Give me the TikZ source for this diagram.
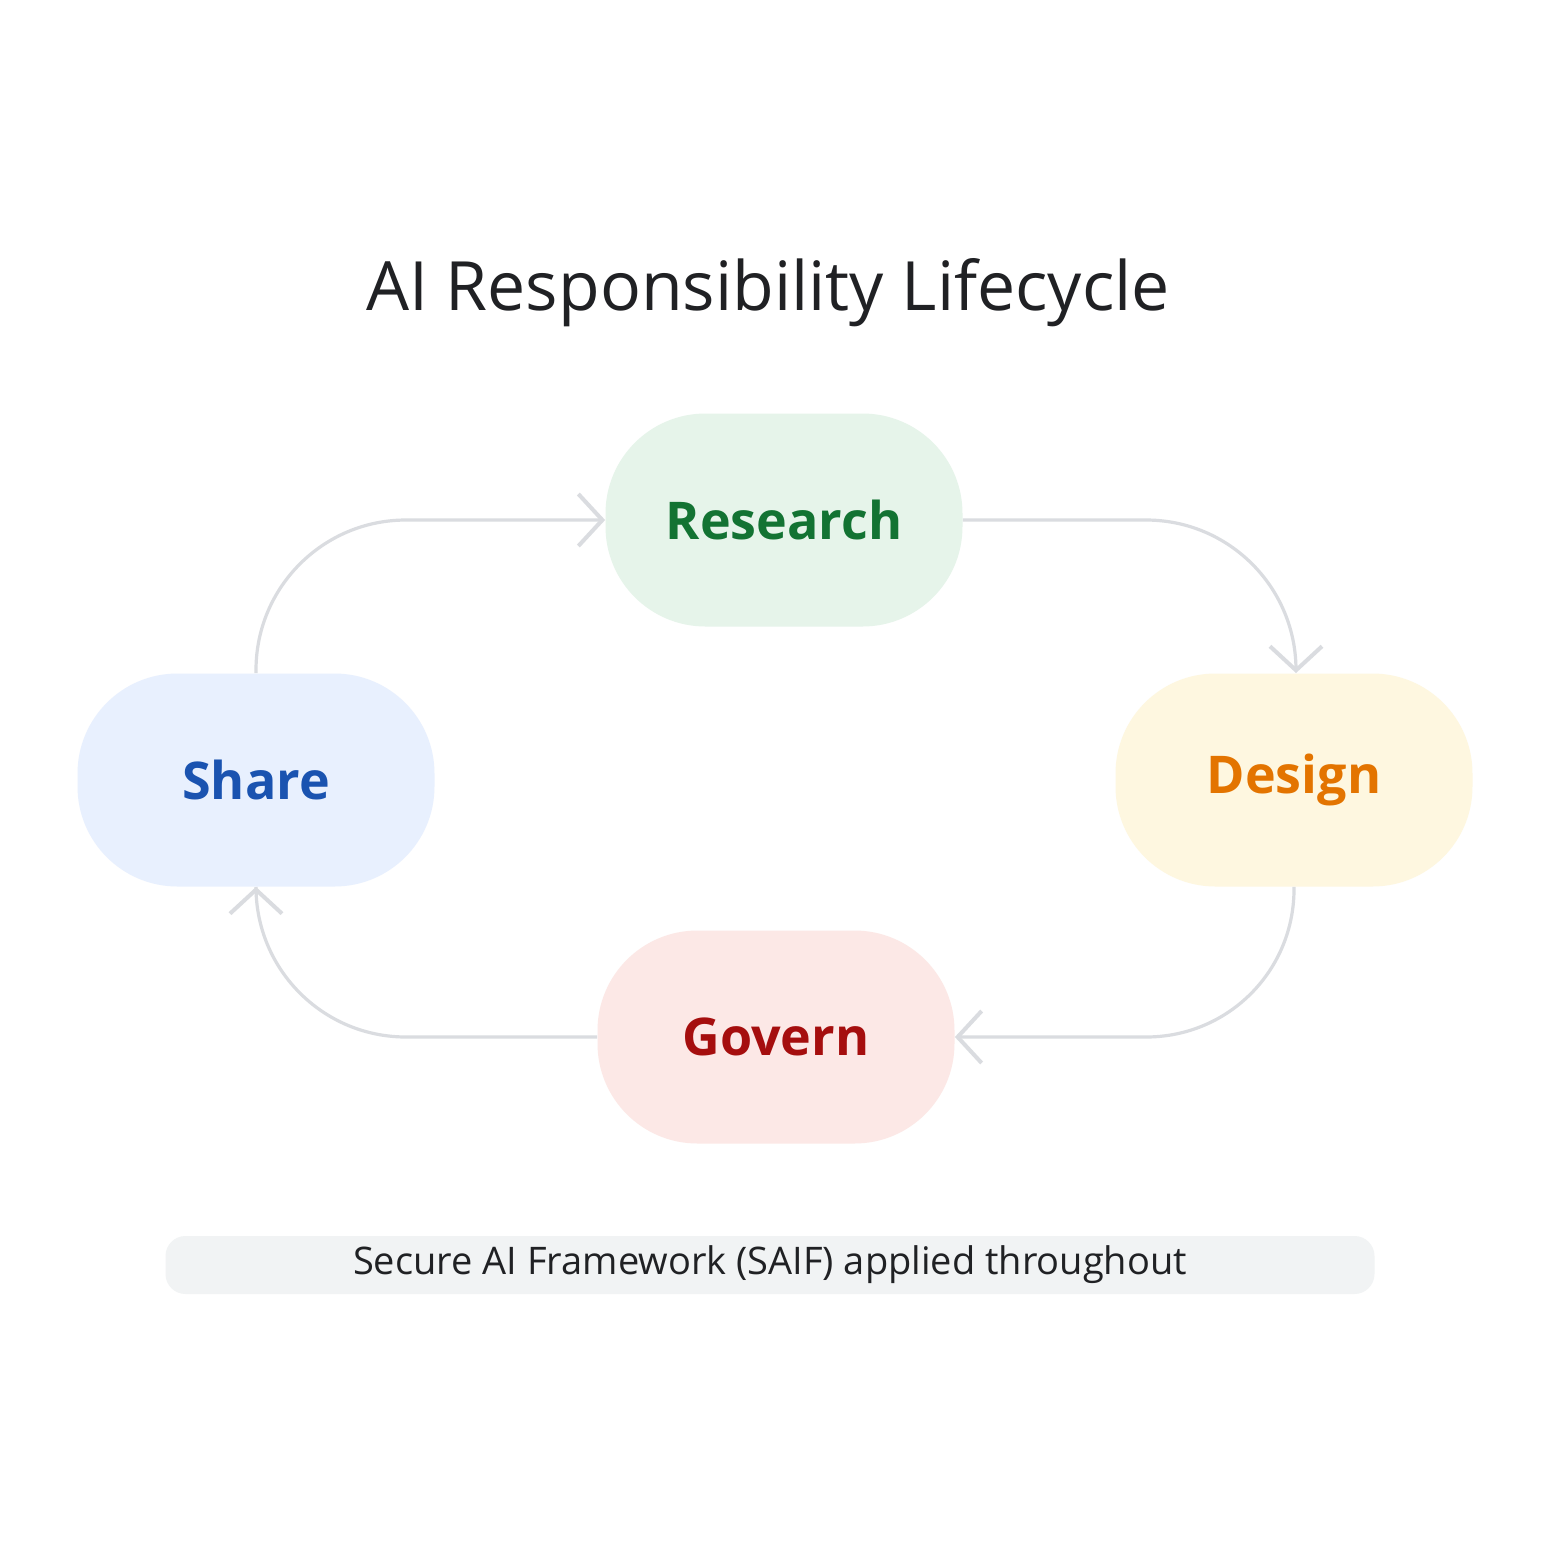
\documentclass[tikz,border=0pt]{standalone}
\usepackage{fontspec}
\setmainfont{Open Sans}
\usetikzlibrary{arrows.meta}
\definecolor{ln}{HTML}{DADCE0}
\definecolor{rf}{HTML}{E6F4EA}\definecolor{rt}{HTML}{137333}
\definecolor{sf}{HTML}{E8F0FE}\definecolor{st}{HTML}{1A53B0}
\definecolor{df}{HTML}{FEF7E0}\definecolor{dt}{HTML}{E37400}
\definecolor{gf}{HTML}{FCE8E6}\definecolor{gt}{HTML}{A50E0E}
\definecolor{bf}{HTML}{F1F3F4}\definecolor{tx}{HTML}{202124}
\tikzset{
 pill/.style={rectangle,rounded corners=50pt,minimum width=178.5pt,minimum height=106.5pt,inner sep=0pt,font=\fontsize{26}{30}\selectfont\bfseries},
 conn/.style={draw=ln,line width=1.6pt,rounded corners=75pt},
 tip/.style={-{Straight Barb[length=12pt,width=26pt,line width=2pt]}}
}
\begin{document}
\begin{tikzpicture}[x=0.5pt,y=-0.5pt]
\useasboundingbox[fill=white] (0,0) rectangle (1560,1560);
\node[text=tx,font=\fontsize{34}{40}\selectfont] (title) at (768,293) {AI Responsibility Lifecycle};
\node[pill,fill=rf,text=rt] (r) at (784,520) {Research};
\node[pill,fill=sf,text=st] (s) at (256,780) {Share};
\node[pill,fill=df,text=dt] (d) at (1294,780) {Design};
\node[pill,fill=gf,text=gt] (g) at (776,1037) {Govern};
\node[rectangle,rounded corners=10pt,fill=bf,minimum width=604.5pt,minimum height=29pt,font=\fontsize{19}{20}\selectfont,text=tx] (saif) at (770,1265) {Secure AI Framework (SAIF) applied throughout};
\draw[conn,tip] (s.north) -- (256,520) -- (r.west);
\draw[conn,tip] (r.east) -- (1296,520) -- (1296,673);
\draw[conn,tip] (d.south) -- (1296,1037) -- (g.east);
\draw[conn,tip] (g.west) -- (256,1037) -- (s.south);
\end{tikzpicture}
\end{document}
